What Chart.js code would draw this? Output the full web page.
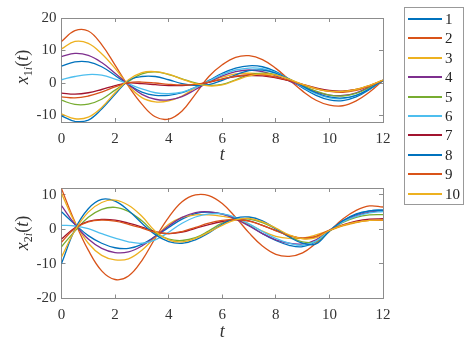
<!DOCTYPE html>
<html>
<head>
<meta charset="utf-8">
<script src="https://cdn.jsdelivr.net/npm/chart.js@4/dist/chart.umd.min.js"></script>
<style>
  body { margin: 0; width: 474px; height: 353px; overflow: hidden; background: #fff; position: relative; }
  canvas { position: absolute; left: 0; }
  .ytitle { position: absolute; font-family: "Liberation Serif", serif; font-size: 18px; color: #333;
            transform: translate(-50%, -50%) rotate(-90deg); white-space: nowrap; }
  .ytitle sub { font-size: 12px; }
  #legend { position: absolute; left: 404px; top: 7px; width: 58px; height: 196px; border: 1px solid #999;
            font-family: "Liberation Serif", serif; font-size: 15px; color: #222; }
  .item { position: absolute; left: 2px; height: 18px; line-height: 18px; }
  .item span.line { position: absolute; left: 1px; top: 8px; width: 34px; height: 2px; }
  .item span.lab { position: absolute; left: 38px; top: 0; }
</style>
</head>
<body>
<canvas id="top" width="474" height="170" style="top:0"></canvas>
<canvas id="bot" width="474" height="183" style="top:170px"></canvas>
<div class="ytitle" style="left:24px;top:67px"><i>x</i><sub>1<i>i</i></sub>(<i>t</i>)</div>
<div class="ytitle" style="left:24px;top:233px"><i>x</i><sub>2<i>i</i></sub>(<i>t</i>)</div>
<div id="legend"></div>
<script>
const T = [0, 0.5, 1, 1.5, 2, 2.5, 3, 3.5, 4, 4.5, 5, 5.5, 6, 6.5, 7, 7.5, 8, 8.5, 9, 9.5, 10, 10.5, 11, 11.5, 12];
const NAMES = ["1", "2", "3", "4", "5", "6", "7", "8", "9", "10"];
const COLORS = ["#0072BD", "#D95319", "#EDB120", "#7E2F8E", "#77AC30", "#4DBEEE", "#A2142F", "#0072BD", "#D95319", "#EDB120"];
const XTICKS = [0, 2, 4, 6, 8, 10, 12];
const YTICKS_TOP = [-10, 0, 10, 20];
const YTICKS_BOT = [-20, -10, 0, 10];

// x_{1i}(t)
const top1 = [5.2, 6.5, 6.5, 5.0, 2.3, -0.5, -2.8, -3.8, -3.8, -3.0, -1.3, 0.8, 3.0, 4.6, 5.3, 5.0, 3.5, 1.2, -1.5, -3.8, -5.2, -5.4, -4.3, -2.0, 0.8];
const top2 = [12.8, 16.1, 16.0, 11.8, 5.5, -1.0, -6.5, -10.4, -11.1, -8.6, -3.4, 2.0, 5.6, 7.9, 8.4, 7.2, 4.5, 1.0, -2.5, -5.3, -6.8, -7.0, -5.5, -2.8, 0.8];
const top3 = [10.5, 12.8, 12.2, 9.0, 4.5, -0.8, -4.5, -5.8, -5.5, -4.0, -1.5, 0.5, 1.8, 2.8, 3.0, 2.7, 1.8, 0.7, -0.6, -1.8, -2.5, -2.6, -2.0, -0.8, 0.8];
const top4 = [8.1, 9.1, 8.5, 6.3, 3.0, -0.5, -3.5, -5.0, -5.2, -4.2, -2.0, 0.3, 2.2, 3.5, 4.0, 3.5, 2.2, 0.6, -1.2, -2.8, -3.7, -3.8, -3.0, -1.2, 0.8];
const top5 = [-5.3, -6.6, -6.5, -5.0, -2.2, 0.5, 2.8, 3.4, 2.6, 1.3, 0.0, -0.7, -0.4, 1.0, 2.5, 3.0, 2.6, 1.2, -0.8, -2.5, -3.7, -4.0, -3.2, -1.4, 0.8];
const top6 = [1.0, 2.0, 2.6, 2.4, 1.2, -0.3, -1.8, -3.0, -3.3, -2.8, -1.4, 0.6, 2.6, 4.0, 4.6, 4.4, 3.2, 1.2, -1.2, -3.3, -4.6, -4.8, -3.8, -1.8, 0.8];
const top7 = [-3.1, -3.4, -3.0, -2.0, -0.8, 0.0, -0.2, -0.5, -0.8, -0.8, -0.5, 0.2, 1.2, 2.0, 2.3, 2.2, 1.6, 0.7, -0.4, -1.5, -2.3, -2.5, -2.0, -0.8, 0.8];
const top8 = [-10.1, -11.8, -11.4, -8.0, -3.5, 0.8, 2.0, 2.0, 1.0, -0.2, -0.8, -0.5, 0.8, 2.5, 3.8, 4.0, 3.0, 1.2, -1.0, -3.0, -4.3, -4.6, -3.8, -1.8, 0.8];
const top9 = [-4.3, -4.6, -4.0, -2.8, -1.2, 0.1, 0.3, 0.0, -0.4, -0.6, -0.4, 0.3, 1.2, 2.1, 2.6, 2.5, 1.8, 0.8, -0.5, -1.7, -2.6, -2.9, -2.3, -0.9, 0.8];
const top10 = [-9.5, -11.0, -10.5, -7.5, -3.0, 1.0, 3.2, 3.5, 2.7, 1.2, -0.2, -0.9, -0.6, 0.8, 2.2, 2.8, 2.4, 1.2, -0.4, -1.7, -2.5, -2.6, -2.0, -0.7, 0.9];

// x_{2i}(t)
const bot1 = [5.1, 1.5, -1.8, -4.0, -5.3, -5.5, -4.3, -2.0, 0.6, 3.0, 4.6, 5.0, 4.5, 3.2, 1.2, -1.2, -3.2, -4.6, -5.0, -3.5, -0.3, 2.5, 4.3, 5.4, 5.6];
const bot2 = [11.8, 2.2, -6.0, -12.0, -14.5, -13.5, -9.0, -2.5, 3.5, 8.0, 10.0, 9.8, 7.5, 3.5, -1.0, -4.8, -7.2, -7.8, -6.8, -4.0, -0.5, 3.0, 5.5, 6.8, 6.5];
const bot3 = [10.4, 2.0, -4.0, -7.5, -8.8, -8.5, -6.0, -2.2, 1.5, 3.5, 4.2, 4.2, 3.8, 3.0, 1.5, -0.5, -2.0, -2.6, -2.5, -1.6, -0.3, 1.0, 2.0, 2.6, 2.7];
const bot4 = [6.9, 1.5, -2.8, -5.5, -6.7, -6.5, -4.8, -2.0, 1.0, 3.5, 4.9, 5.1, 4.4, 3.0, 1.0, -1.2, -3.0, -4.0, -4.2, -3.0, -0.3, 2.2, 3.9, 5.0, 5.4];
const bot5 = [-5.0, -0.5, 3.5, 5.8, 6.4, 5.2, 2.5, -1.0, -2.8, -3.2, -2.4, -0.4, 1.8, 2.9, 3.0, 2.0, 0.2, -2.0, -3.6, -3.5, -0.5, 2.0, 3.5, 4.2, 4.3];
const bot6 = [1.2, 1.0, 0.2, -1.2, -2.5, -3.6, -4.0, -3.0, -0.8, 1.8, 3.6, 4.5, 4.5, 3.5, 1.6, -0.6, -2.6, -4.0, -4.6, -3.4, -0.3, 2.2, 3.8, 4.8, 5.2];
const bot7 = [-2.8, 0.5, 2.3, 2.9, 2.7, 1.8, 0.7, -0.6, -1.2, -0.8, 0.3, 1.4, 2.3, 2.8, 2.5, 1.2, -0.3, -1.8, -2.6, -2.2, -0.3, 1.3, 2.4, 3.0, 3.1];
const bot8 = [-9.9, 0.0, 6.0, 8.7, 8.2, 5.5, 1.8, -1.5, -3.5, -4.0, -3.0, -1.0, 1.5, 3.3, 3.6, 2.5, 0.2, -2.2, -4.0, -4.2, -0.5, 2.5, 4.5, 5.4, 5.6];
const bot9 = [-3.7, 0.3, 2.2, 2.7, 2.4, 1.5, 0.4, -0.8, -1.2, -0.6, 0.6, 1.8, 2.6, 2.9, 2.4, 1.2, -0.4, -1.8, -2.5, -2.0, -0.2, 1.2, 2.1, 2.6, 2.6];
const bot10 = [-8.0, -0.3, 5.0, 7.8, 8.5, 7.0, 3.8, -0.5, -3.0, -3.6, -2.6, -0.8, 1.2, 2.8, 3.2, 2.2, 0.4, -1.6, -2.7, -2.4, -0.3, 1.2, 2.1, 2.6, 2.7];

const TOP = [top1, top2, top3, top4, top5, top6, top7, top8, top9, top10];
const BOT = [bot1, bot2, bot3, bot4, bot5, bot6, bot7, bot8, bot9, bot10];

const AXIS = "#8c8c8c";
const TICKFONT = { family: "Liberation Serif", size: 15 };

function setTicks(list) {
  return function (scale) { scale.ticks = list.map(v => ({ value: v })); };
}

function makeChart(id, series, yMin, yMax, yTicks, padTop, xHeight, titlePad) {
  const boxAxis = (pos, ticks, min, max) => ({
    type: "linear", position: pos, min: min, max: max,
    afterBuildTicks: setTicks(ticks),
    afterFit: s => { if (pos === "top") s.height = 0; else s.width = 0; },
    grid: { drawOnChartArea: false, tickLength: -4, color: AXIS },
    border: { color: AXIS },
    ticks: { display: false }
  });
  return new Chart(document.getElementById(id), {
    type: "line",
    data: {
      datasets: series.map((vals, i) => ({
        label: NAMES[i],
        data: T.map((t, k) => ({ x: t, y: vals[k] })),
        borderColor: COLORS[i],
        borderWidth: 1.3,
        pointRadius: 0,
        tension: 0.4,
        fill: false,
        order: 10 - i
      }))
    },
    options: {
      responsive: false,
      animation: false,
      events: [],
      layout: { padding: { left: 0, right: 91, top: padTop, bottom: 0 } },
      plugins: { legend: { display: false }, tooltip: { enabled: false } },
      scales: {
        x: {
          type: "linear", position: "bottom", min: 0, max: 12,
          afterBuildTicks: setTicks(XTICKS),
          afterFit: s => { s.height = xHeight; },
          grid: { drawOnChartArea: false, tickLength: -4, color: AXIS },
          border: { color: AXIS },
          ticks: { padding: 12, color: "#333", font: TICKFONT, maxRotation: 0 },
          title: { display: true, text: "t", color: "#333",
                   font: { family: "Liberation Serif", size: 18, style: "italic" },
                   padding: { top: 0, bottom: titlePad } }
        },
        x2: boxAxis("top", XTICKS, 0, 12),
        y: {
          type: "linear", position: "left", min: yMin, max: yMax,
          afterBuildTicks: setTicks(yTicks),
          afterFit: s => { s.width = 61.5; },
          grid: { drawOnChartArea: false, tickLength: -4, color: AXIS },
          border: { color: AXIS },
          ticks: { padding: 9, color: "#333", font: TICKFONT }
        },
        y2: boxAxis("right", yTicks, yMin, yMax)
      }
    }
  });
}

makeChart("top", TOP, -12, 20, YTICKS_TOP, 8, 48, 4);
makeChart("bot", BOT, -20, 12, YTICKS_BOT, 7.5, 54.5, 10);

// legend
const legend = document.getElementById("legend");
NAMES.forEach((name, i) => {
  const item = document.createElement("div");
  item.className = "item";
  item.style.top = (2 + i * 19.4) + "px";
  item.innerHTML = '<span class="line" style="background:' + COLORS[i] + '"></span><span class="lab">' + name + "</span>";
  legend.appendChild(item);
});
</script>
</body>
</html>
